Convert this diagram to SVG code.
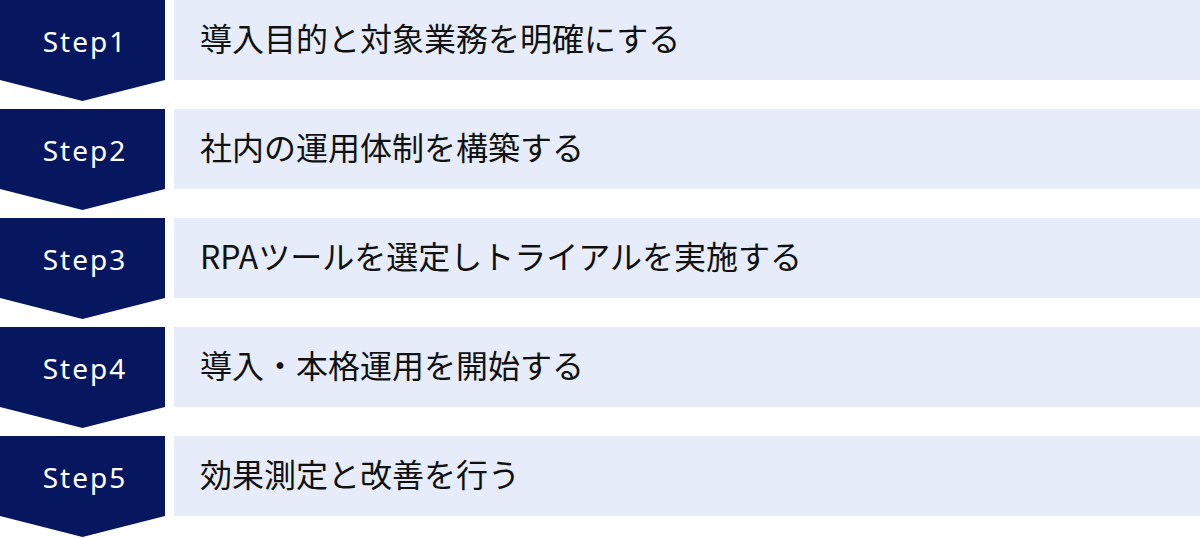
<svg xmlns="http://www.w3.org/2000/svg" width="1200" height="538" viewBox="0 0 1200 538">
<style>
.chev{fill:#07175f}
.box{fill:#e6ecf9}
.lbl{font-family:"Noto Sans","Noto Sans CJK JP",sans-serif;font-size:28px;fill:#ffffff;text-anchor:middle;letter-spacing:2px}
.txt{font-family:"Noto Sans CJK JP","Noto Sans",sans-serif;font-size:32px;fill:#111111}
</style>
<rect width="1200" height="538" fill="#ffffff"/>
<defs>
<path id="chevron" d="M0 0H165V80L82.5 101L0 80Z"/>
</defs>
<g id="step1">
<use href="#chevron" class="chev"/>
<rect class="box" x="174" y="0" width="1026" height="80"/>
<text class="lbl" x="85" y="52">Step1</text>
<text class="txt" x="200" y="51">導入目的と対象業務を明確にする</text>
</g>
<g id="step2" transform="translate(0,109)">
<use href="#chevron" class="chev"/>
<rect class="box" x="174" y="0" width="1026" height="80"/>
<text class="lbl" x="85" y="52">Step2</text>
<text class="txt" x="200" y="51">社内の運用体制を構築する</text>
</g>
<g id="step3" transform="translate(0,218)">
<use href="#chevron" class="chev"/>
<rect class="box" x="174" y="0" width="1026" height="80"/>
<text class="lbl" x="85" y="52">Step3</text>
<text class="txt" x="200" y="51">RPAツールを選定しトライアルを実施する</text>
</g>
<g id="step4" transform="translate(0,327)">
<use href="#chevron" class="chev"/>
<rect class="box" x="174" y="0" width="1026" height="80"/>
<text class="lbl" x="85" y="52">Step4</text>
<text class="txt" x="200" y="51">導入・本格運用を開始する</text>
</g>
<g id="step5" transform="translate(0,436)">
<use href="#chevron" class="chev"/>
<rect class="box" x="174" y="0" width="1026" height="80"/>
<text class="lbl" x="85" y="52">Step5</text>
<text class="txt" x="200" y="51">効果測定と改善を行う</text>
</g>
<g id="connectors"></g>
</svg>
